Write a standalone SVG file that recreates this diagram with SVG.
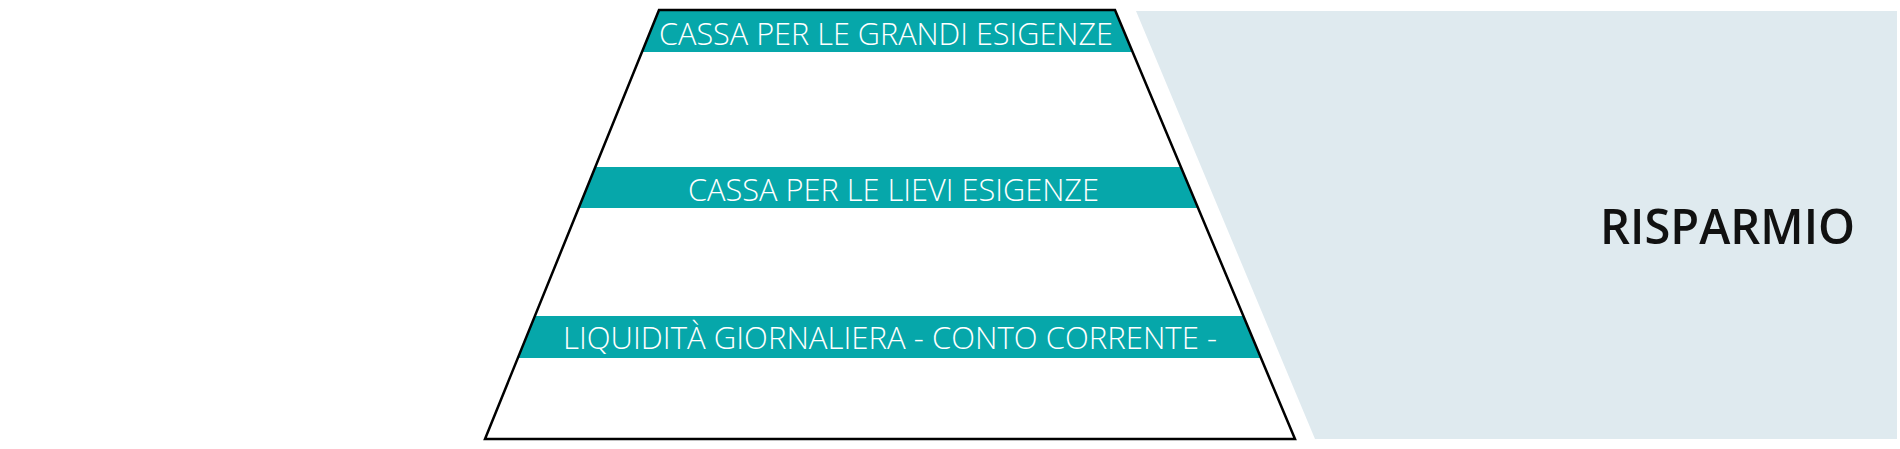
<svg xmlns="http://www.w3.org/2000/svg" width="1900" height="449" viewBox="0 0 1900 449">
  <style>
    .band { fill: #06a7aa; }
    .btxt { font-family: "Open Sans", "Liberation Sans", sans-serif; font-size: 31px; font-weight: 300; fill: #ffffff; }
    .title { font-family: "Open Sans", "Liberation Sans", sans-serif; font-size: 49px; font-weight: 600; fill: #111111; }
  </style>
  <defs>
    <clipPath id="trapClip">
      <polygon points="659,10 1115,10 1295,439 485,439"/>
    </clipPath>
  </defs>
  <rect x="0" y="0" width="1900" height="449" fill="#ffffff"/>
  <g id="panel">
    <polygon points="1136,11 1897,11 1897,439 1315,439" fill="#dfeaef"/>
    <text class="title" x="1600" y="244" textLength="255" lengthAdjust="spacingAndGlyphs">RISPARMIO</text>
  </g>
  <g id="pyramid">
    <polygon points="659,10 1115,10 1295,439 485,439" fill="#ffffff"/>
    <g clip-path="url(#trapClip)">
      <rect id="band1" class="band" x="400" y="10" width="1000" height="42"/>
      <rect id="band2" class="band" x="400" y="167" width="1000" height="41"/>
      <rect id="band3" class="band" x="400" y="316" width="1000" height="42"/>
    </g>
    <polygon points="659,10 1115,10 1295,439 485,439" fill="none" stroke="#000000" stroke-width="2.5" stroke-linejoin="miter"/>
  </g>
  <g id="level1">
    <text class="btxt" x="659" y="45" textLength="454" lengthAdjust="spacingAndGlyphs">CASSA PER LE GRANDI ESIGENZE</text>
  </g>
  <g id="level2">
    <text class="btxt" x="688" y="201" textLength="411" lengthAdjust="spacingAndGlyphs">CASSA PER LE LIEVI ESIGENZE</text>
  </g>
  <g id="level3">
    <text class="btxt" x="563" y="349" textLength="654" lengthAdjust="spacingAndGlyphs">LIQUIDITÀ GIORNALIERA - CONTO CORRENTE -</text>
  </g>
  <g id="connectors"></g>
</svg>
